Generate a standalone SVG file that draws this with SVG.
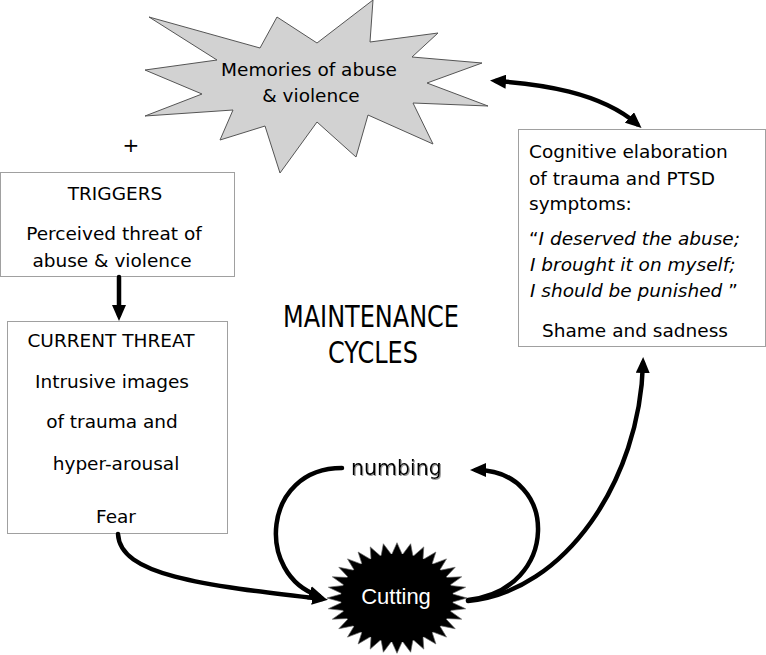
<svg xmlns="http://www.w3.org/2000/svg" xmlns:xlink="http://www.w3.org/1999/xlink" width="766" height="655" viewBox="0 0 766 655">
  <style>
    .t { font-family: "DejaVu Sans", Verdana, sans-serif; font-size: 18.5px; fill: #000; }
    .c { text-anchor: middle; }
    .it { font-style: italic; }
    .box { fill: #fff; stroke: #a0a0a0; stroke-width: 1; }
    .conn { fill: none; stroke: #000; stroke-width: 4.5; stroke-linecap: round; }
    .title { font-family: "DejaVu Sans Condensed", "DejaVu Sans", sans-serif; font-size: 30px; fill: #000; }
    .cut { font-family: "Liberation Sans", Arial, sans-serif; font-size: 22px; fill: #fff; text-anchor: middle; }
  </style>
  <defs>
    <marker id="ah" viewBox="0 0 16 14" refX="10" refY="7" markerWidth="16" markerHeight="14" markerUnits="userSpaceOnUse" orient="auto-start-reverse">
      <path d="M0,0 L16,7 L0,14 z" fill="#000"/>
    </marker>
    <polygon id="spike" points="-6,-53 0,-70 6,-53" fill="#000" stroke="#666" stroke-width="0.7"/>
    <filter id="sh" x="-10%" y="-10%" width="130%" height="130%">
      <feDropShadow dx="1" dy="1" stdDeviation="0.6" flood-color="#999"/>
    </filter>
  </defs>

  <rect width="766" height="655" fill="#fff"/>

  <g id="node-memories">
    <polygon points="149,17 260,48 277,17 317,43 373,0 370,42 438,33 412,57 482,63 427,83 488,106 413,103 433,144 368,115 356,157 317,122 280,173 265,126 220,140 233,110 145,116 202,94 145,70 217,60" fill="#d2d2d2" stroke="#555" stroke-width="1"/>
    <text class="t c" x="309" y="76">Memories of abuse</text>
    <text class="t c" x="311" y="102">&amp; violence</text>
  </g>

  <g id="label-plus">
    <text class="t c" x="131" y="152" style="font-size:20px">+</text>
  </g>

  <g id="node-triggers">
    <rect class="box" x="0.5" y="172.5" width="234" height="104"/>
    <text class="t c" x="115" y="200">TRIGGERS</text>
    <text class="t c" x="114" y="240">Perceived threat of</text>
    <text class="t c" x="112" y="267">abuse &amp; violence</text>
  </g>

  <g id="node-current-threat">
    <rect class="box" x="7.5" y="321.5" width="220" height="212"/>
    <text class="t c" x="111" y="347">CURRENT THREAT</text>
    <text class="t c" x="112" y="388">Intrusive images</text>
    <text class="t c" x="112" y="428">of trauma and</text>
    <text class="t c" x="116" y="470">hyper-arousal</text>
    <text class="t c" x="116" y="523">Fear</text>
  </g>

  <g id="node-cognitive">
    <rect class="box" x="518.5" y="129.5" width="247" height="217"/>
    <text class="t" x="529" y="158">Cognitive elaboration</text>
    <text class="t" x="529" y="185">of trauma and PTSD</text>
    <text class="t" x="529" y="210">symptoms:</text>
    <text class="t" x="529" y="245">“<tspan class="it">I deserved the abuse;</tspan></text>
    <text class="t it" x="530" y="271">I brought it on myself;</text>
    <text class="t" x="530" y="297"><tspan class="it">I should be punished</tspan>  ”</text>
    <text class="t c" x="635" y="337">Shame and sadness</text>
  </g>

  <g id="label-maintenance">
    <text class="title" x="283" y="327" textLength="176" lengthAdjust="spacingAndGlyphs">MAINTENANCE</text>
    <text class="title" x="328" y="363" textLength="90" lengthAdjust="spacingAndGlyphs">CYCLES</text>
  </g>

  <g id="node-numbing">
    <text class="t" x="351" y="475" style="font-size:20.5px" filter="url(#sh)">numbing</text>
  </g>

  <g id="connectors">
    <path class="conn" d="M119,277 L119,315" marker-end="url(#ah)" stroke-linecap="butt"/>
    <path class="conn" d="M496,81 C540,84 600,92 637,124" marker-start="url(#ah)" marker-end="url(#ah)"/>
    <path class="conn" d="M118,534 C120,575 200,585 322,599" marker-end="url(#ah)"/>
    <path class="conn" d="M342,468 C262,468 255,575 319,596" marker-end="url(#ah)"/>
    <path class="conn" d="M468,600 C560,590 560,470 476,470" marker-end="url(#ah)"/>
    <path class="conn" d="M468,601 C565,592 640,480 643,363" marker-end="url(#ah)"/>
  </g>

  <g id="node-cutting">
    <g transform="translate(397,598) scale(1,0.79)">
      <use xlink:href="#spike" transform="rotate(0)"/>
      <use xlink:href="#spike" transform="rotate(11.25)"/>
      <use xlink:href="#spike" transform="rotate(22.5)"/>
      <use xlink:href="#spike" transform="rotate(33.75)"/>
      <use xlink:href="#spike" transform="rotate(45)"/>
      <use xlink:href="#spike" transform="rotate(56.25)"/>
      <use xlink:href="#spike" transform="rotate(67.5)"/>
      <use xlink:href="#spike" transform="rotate(78.75)"/>
      <use xlink:href="#spike" transform="rotate(90)"/>
      <use xlink:href="#spike" transform="rotate(101.25)"/>
      <use xlink:href="#spike" transform="rotate(112.5)"/>
      <use xlink:href="#spike" transform="rotate(123.75)"/>
      <use xlink:href="#spike" transform="rotate(135)"/>
      <use xlink:href="#spike" transform="rotate(146.25)"/>
      <use xlink:href="#spike" transform="rotate(157.5)"/>
      <use xlink:href="#spike" transform="rotate(168.75)"/>
      <use xlink:href="#spike" transform="rotate(180)"/>
      <use xlink:href="#spike" transform="rotate(191.25)"/>
      <use xlink:href="#spike" transform="rotate(202.5)"/>
      <use xlink:href="#spike" transform="rotate(213.75)"/>
      <use xlink:href="#spike" transform="rotate(225)"/>
      <use xlink:href="#spike" transform="rotate(236.25)"/>
      <use xlink:href="#spike" transform="rotate(247.5)"/>
      <use xlink:href="#spike" transform="rotate(258.75)"/>
      <use xlink:href="#spike" transform="rotate(270)"/>
      <use xlink:href="#spike" transform="rotate(281.25)"/>
      <use xlink:href="#spike" transform="rotate(292.5)"/>
      <use xlink:href="#spike" transform="rotate(303.75)"/>
      <use xlink:href="#spike" transform="rotate(315)"/>
      <use xlink:href="#spike" transform="rotate(326.25)"/>
      <use xlink:href="#spike" transform="rotate(337.5)"/>
      <use xlink:href="#spike" transform="rotate(348.75)"/>
      <ellipse rx="56" ry="56" fill="#000"/>
    </g>
    <text class="cut" x="396" y="604">Cutting</text>
  </g>
</svg>
